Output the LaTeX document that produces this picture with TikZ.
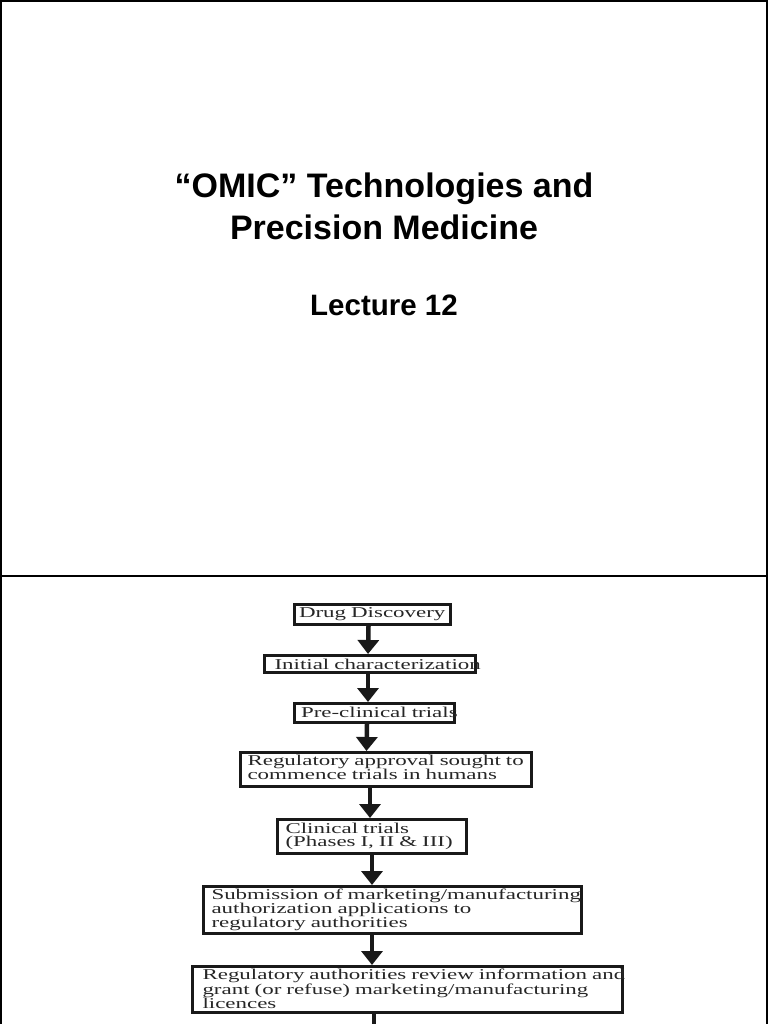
\documentclass[tikz,border=0pt]{standalone}
\usepackage{fontspec}
\usepackage{tikz}
\usetikzlibrary{arrows.meta}
\setmainfont{Liberation Sans}
\newfontfamily\boxfont[FakeStretch=1.53]{Liberation Serif}

\begin{document}
\begin{tikzpicture}[
        x=1pt,y=-1pt,
        box/.style={
            draw=black!90,
            line width=3pt,
            inner xsep=0pt,
            inner ysep=0pt,
            align=left,
            font=\fontsize{15}{13.7}\selectfont\boxfont,
            text=black!85
        },
        pad/.style={
            execute at begin node={\leftskip=#1\relax\rightskip=-8pt plus 1fil\relax}
        },
        raised/.style={
            execute at end node={\endgraf\vspace{#1}}
        },
        heading/.style={
            align=center,
            font=\fontsize{34}{42}\selectfont\bfseries
        },
        flow/.style={
            line width=4.5pt,
            draw=black!90,
            -{Triangle[width=21pt,length=14pt]}
        },
        link/.style={
            line width=4.5pt,
            draw=black!90
        }
    ]
        \useasboundingbox (0,0) rectangle (768,1024);

        % Slide frames
        \draw[line width=2pt] (1,1) rectangle (767,575.5);
        \draw[line width=2pt] (1,575.5) -- (1,1024);
        \draw[line width=2pt] (767,575.5) -- (767,1024);

        % Title
        \node[heading] (title) at (384,206) {“OMIC” Technologies and\\Precision Medicine};
        \node[heading,font=\fontsize{29.5}{32}\selectfont\bfseries] (lecture) at (384,305) {Lecture 12};

        % Flow chart boxes
        \node[box,pad=4.5pt,text width=156pt,minimum height=20pt] (drug) at (372.5,614.5) {Drug Discovery};
        \node[box,pad=10pt,text width=211pt,minimum height=17pt] (init) at (370,664) {Initial characterization};
        \node[box,pad=6.5pt,raised=2pt,text width=160pt,minimum height=19pt] (pre) at (374.5,713) {Pre-clinical trials};
        \node[box,pad=7pt,raised=4pt,text width=291pt,minimum height=34pt] (approval) at (386,769.5) {Regulatory approval sought to\\commence trials in humans};
        \node[box,pad=8pt,text width=189pt,minimum height=34pt] (clinical) at (372,836.5) {Clinical trials\\(Phases I, II \& III)};
        \node[box,pad=8pt,text width=378pt,minimum height=47pt] (submission) at (392.5,910) {Submission of marketing/manufacturing\\authorization applications to\\regulatory authorities};
        \node[box,pad=10pt,raised=1pt,text width=430pt,minimum height=46pt] (review) at (407.5,989.5) {Regulatory authorities review information and\\grant (or refuse) marketing/manufacturing\\licences};

        % Free end of the last line
        \coordinate (next) at (374,1024);

        % Arrows
        \draw[flow] ([xshift=-4pt]drug.south) -- ([xshift=-2pt]init.north);
        \draw[flow] ([xshift=-2pt]init.south) -- ([xshift=-6.5pt]pre.north);
        \draw[flow] ([xshift=-7.5pt]pre.south) -- ([xshift=-19.5pt]approval.north);
        \draw[flow] ([xshift=-16pt]approval.south) -- ([xshift=-2pt]clinical.north);
        \draw[flow] (clinical.south) -- ([xshift=-20.5pt]submission.north);
        \draw[flow] ([xshift=-20.5pt]submission.south) -- ([xshift=-35.5pt]review.north);
        \draw[link] ([xshift=-33.5pt]review.south) -- (next);

    \end{tikzpicture}
\end{document}
